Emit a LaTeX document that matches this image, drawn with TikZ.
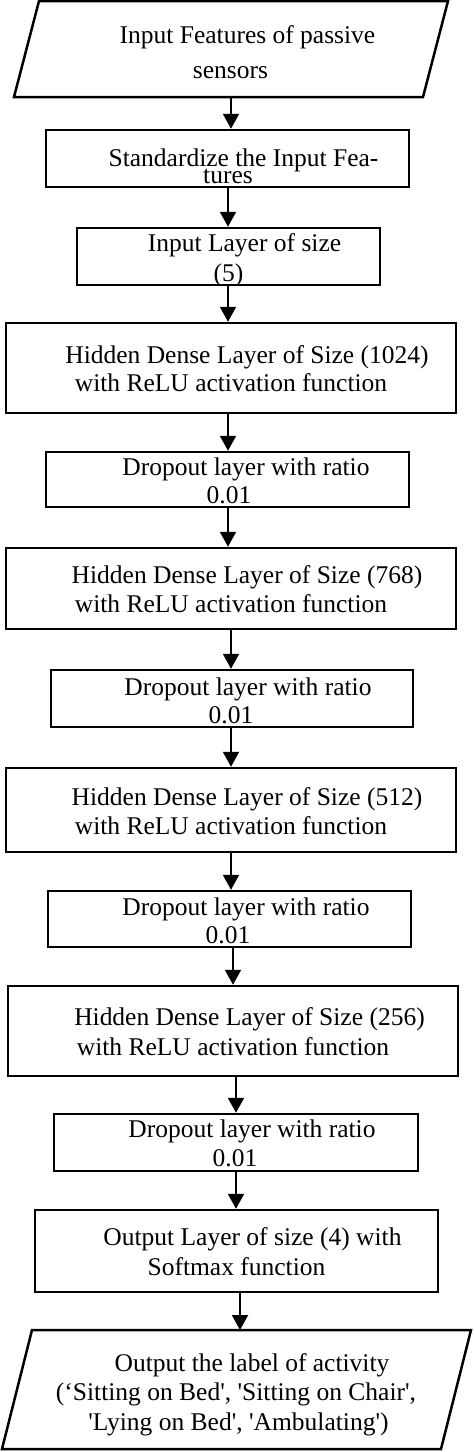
\documentclass[tikz,border=0pt]{standalone}
\usepackage{fontspec}
\newfontfamily\fs{Liberation Serif}[Ligatures=TeXOff]
\usetikzlibrary{arrows.meta}
\begin{document}
\begin{tikzpicture}[x=1pt,y=-1pt,
  boxnode/.style={draw, line width=2.5pt, inner sep=0pt},
  slantnode/.style={inner sep=0pt, outer sep=0pt},
  slantline/.style={line width=2.5pt, line join=miter},
  txt/.style={inner sep=0pt, align=center, font={\fs\fontsize{25.5pt}{#1}\selectfont}},
  arr/.style={line width=2pt, -{Triangle[width=16pt,length=15pt]}}]
\lineskiplimit=-100pt\relax
\useasboundingbox (0,0) rectangle (474,1452);

% boxes
\node[slantnode, minimum width=434pt, minimum height=96pt] (b1) at (231,49) {};
\draw[slantline] ([xshift=25pt]b1.north west) -- (b1.north east) -- ([xshift=-25pt]b1.south east) -- (b1.south west) -- cycle;
\node[boxnode, minimum width=363pt, minimum height=57pt] (b2) at (227.5,158.5) {};
\node[boxnode, minimum width=303pt, minimum height=57pt] (b3) at (228.5,256.5) {};
\node[boxnode, minimum width=450pt, minimum height=90pt] (b4) at (231,368) {};
\node[boxnode, minimum width=363pt, minimum height=55pt] (b5) at (227.5,479.5) {};
\node[boxnode, minimum width=450pt, minimum height=81pt] (b6) at (231,588.5) {};
\node[boxnode, minimum width=362pt, minimum height=57pt] (b7) at (232,698.5) {};
\node[boxnode, minimum width=450pt, minimum height=84pt] (b8) at (231,810) {};
\node[boxnode, minimum width=363pt, minimum height=56pt] (b9) at (229.5,919) {};
\node[boxnode, minimum width=450pt, minimum height=90pt] (b10) at (233,1031) {};
\node[boxnode, minimum width=364pt, minimum height=57pt] (b11) at (236,1142.5) {};
\node[boxnode, minimum width=403pt, minimum height=82pt] (b12) at (236.5,1251) {};
\node[slantnode, minimum width=469pt, minimum height=119pt] (b13) at (236.5,1389.5) {};
\draw[slantline] ([xshift=30pt]b13.north west) -- (b13.north east) -- ([xshift=-30pt]b13.south east) -- (b13.south west) -- cycle;

% texts
\node[txt=35pt] (t1) at (230.5,52.5) {\hspace*{34pt}Input Features of passive\\sensors};
\node[txt=17pt] (t2) at (228,166.5) {\hspace*{31pt}Standardize the Input Fea-\\tures};
\node[txt=30pt] (t3) at (228.5,260) {\hspace*{32pt}Input Layer of size\\(5)};
\node[txt=28pt] (t4) at (231,369) {\hspace*{32pt}Hidden Dense Layer of Size (1024)\\with ReLU activation function};
\node[txt=28pt] (t5) at (229,481) {\hspace*{34pt}Dropout layer with ratio\\0.01};
\node[txt=29pt] (t6) at (231,589.5) {\hspace*{32pt}Hidden Dense Layer of Size (768)\\with ReLU activation function};
\node[txt=28pt] (t7) at (231,701) {\hspace*{34pt}Dropout layer with ratio\\0.01};
\node[txt=29pt] (t8) at (231,811.5) {\hspace*{32pt}Hidden Dense Layer of Size (512)\\with ReLU activation function};
\node[txt=28pt] (t9) at (228,921) {\hspace*{36pt}Dropout layer with ratio\\0.01};
\node[txt=30pt] (t10) at (233,1032) {\hspace*{33pt}Hidden Dense Layer of Size (256)\\with ReLU activation function};
\node[txt=29pt] (t11) at (235,1143.5) {\hspace*{34pt}Dropout layer with ratio\\0.01};
\node[txt=30pt] (t12) at (236.5,1252) {\hspace*{32pt}Output Layer of size (4) with\\Softmax function};
\node[txt=29.5pt] (t13) at (236,1394.5) {\hspace*{32pt}Output the label of activity\\(‘Sitting on Bed', 'Sitting on Chair',\\\hspace*{5pt}'Lying on Bed', 'Ambulating')};

% arrows
\draw[arr] (b1.south) -- (b1.south |- b2.north);
\draw[arr] ([xshift=0.5pt]b2.south) -- ([xshift=0.5pt]b2.south |- b3.north);
\draw[arr] ([xshift=-0.5pt]b3.south) -- ([xshift=-0.5pt]b3.south |- b4.north);
\draw[arr] ([xshift=-3pt]b4.south) -- ([xshift=-3pt]b4.south |- b5.north);
\draw[arr] ([xshift=0.5pt]b5.south) -- ([xshift=0.5pt]b5.south |- b6.north);
\draw[arr] (b6.south) -- (b6.south |- b7.north);
\draw[arr] ([xshift=-1pt]b7.south) -- ([xshift=-1pt]b7.south |- b8.north);
\draw[arr] (b8.south) -- (b8.south |- b9.north);
\draw[arr] ([xshift=3.5pt]b9.south) -- ([xshift=3.5pt]b9.south |- b10.north);
\draw[arr] ([xshift=3pt]b10.south) -- ([xshift=3pt]b10.south |- b11.north);
\draw[arr] (b11.south) -- (b11.south |- b12.north);
\draw[arr] ([xshift=3.5pt]b12.south) -- ([xshift=3.5pt]b12.south |- b13.north);
\end{tikzpicture}
\end{document}
